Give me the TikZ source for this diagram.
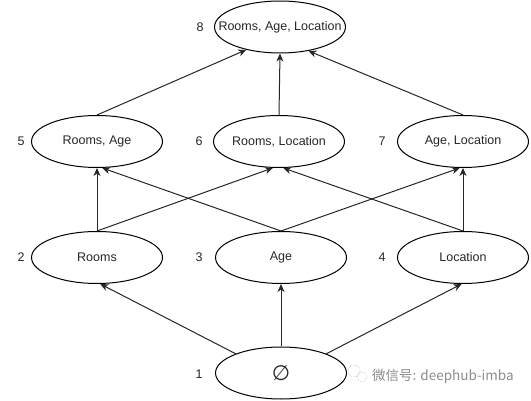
\documentclass[tikz,border=0pt]{standalone}
\usepackage{fontspec}
\setmainfont{Liberation Sans}
\newfontfamily\cjkfont{Noto Sans CJK SC}
\newfontfamily\symfont{DejaVu Sans}
\usetikzlibrary{arrows.meta,shapes.geometric}
\begin{document}
\begin{tikzpicture}[x=1pt,y=-1pt,
  setnode/.style={ellipse,draw,line width=1pt,minimum width=131pt,minimum height=52pt,inner sep=0pt,
    font=\fontsize{12.5}{14}\selectfont,text=black!85},
  numlabel/.style={font=\fontsize{12.5}{14}\selectfont,text=black!85},
  arr/.style={line width=1pt,draw=black!85,-{Stealth[length=8pt,width=7pt,inset=2.5pt]}}]
\useasboundingbox (0,0) rectangle (531,401);
% nodes
\node[setnode] (n8) at (280,27) {\makebox[0pt]{Rooms, Age, Location}};
\node[setnode] (n5) at (97,141.5) {\makebox[0pt]{Rooms, Age}};
\node[setnode] (n6) at (279,141.5) {\makebox[0pt]{Rooms, Location}};
\node[setnode] (n7) at (463,141.5) {\makebox[0pt]{Age, Location}};
\node[setnode] (n2) at (97,257.5) {\makebox[0pt]{Rooms}};
\node[setnode] (n3) at (281,257.5) {\makebox[0pt]{Age}};
\node[setnode] (n4) at (463,257.5) {\makebox[0pt]{Location}};
\node[setnode] (n1) at (281,373) {\makebox[0pt]{\symfont\fontsize{21}{22}\selectfont ∅}};
% number labels
\node[numlabel] (l8) at (200,27) {8};
\node[numlabel] (l5) at (21,141.5) {5};
\node[numlabel] (l6) at (199,141.5) {6};
\node[numlabel] (l7) at (382,141.5) {7};
\node[numlabel] (l2) at (21,257.5) {2};
\node[numlabel] (l3) at (199,257.5) {3};
\node[numlabel] (l4) at (382,257.5) {4};
\node[numlabel] (l1) at (199,374) {1};
% edges
\draw[arr] (n1.157) -- (n2.-83);
\draw[arr] (n1.north) -- (n3.south);
\draw[arr] (n1.23) -- (n4.-93);
\draw[arr] (n2.north) -- (n5.south);
\draw[arr] (n2.north) -- (n6.-103);
\draw[arr] (n3.north) -- (n5.-79);
\draw[arr] (n3.north) -- (n7.-97);
\draw[arr] (n4.north) -- (n6.-81);
\draw[arr] (n4.north) -- (n7.south);
\draw[arr] (n5.north) -- (n8.-146);
\draw[arr] (n6.north) -- (n8.south);
\draw[arr] (n7.north) -- (n8.-40);
% watermark
\draw[black!25,line width=0.6pt,densely dotted] (354,371) circle (6pt);
\draw[black!25,line width=0.6pt,densely dotted] (362,377) circle (5pt);
\node[font=\cjkfont\fontsize{13.5}{15}\selectfont,text=black!45,anchor=west,inner sep=0pt] (wm) at (372,376) {微信号: deephub-imba};
\end{tikzpicture}
\end{document}
